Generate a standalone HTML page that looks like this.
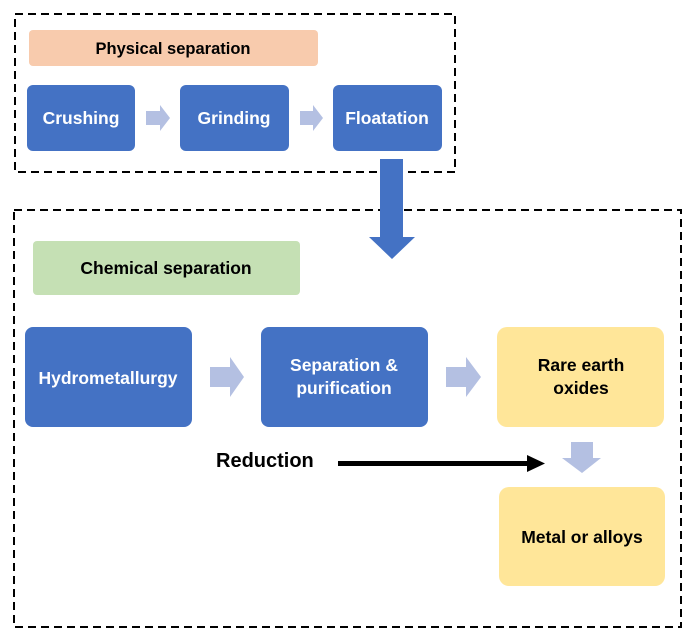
<!DOCTYPE html>
<html><head><style>
html,body{margin:0;padding:0;background:#fff;}
svg{display:block;}
text{font-family:"Liberation Sans",sans-serif;font-weight:bold;}
</style></head><body>
<svg width="697" height="644" viewBox="0 0 697 644" xmlns="http://www.w3.org/2000/svg">
<g fill="none" stroke="#000" stroke-width="2" stroke-dasharray="8,5">
<rect x="15" y="14" width="440" height="158"/>
<rect x="14" y="210" width="667" height="417"/>
</g>
<rect x="29" y="30" width="289" height="36" rx="4" fill="#F8CBAD"/>
<text x="173" y="54" font-size="16.5" text-anchor="middle" fill="#000">Physical separation</text>
<g fill="#4472C4">
<rect x="27" y="85" width="108" height="66" rx="6"/>
<rect x="180" y="85" width="109" height="66" rx="6"/>
<rect x="333" y="85" width="109" height="66" rx="6"/>
<rect x="25" y="327" width="167" height="100" rx="8"/>
<rect x="261" y="327" width="167" height="100" rx="8"/>
<polygon points="380,159 403,159 403,237 415,237 392,259 369,237 380,237"/>
</g>
<g fill="#fff" font-size="17.5" text-anchor="middle">
<text x="81" y="124">Crushing</text>
<text x="234" y="124">Grinding</text>
<text x="387" y="124">Floatation</text>
<text x="108" y="384">Hydrometallurgy</text>
<text x="344" y="371">Separation &amp;</text>
<text x="344" y="394">purification</text>
</g>
<g fill="#B4C0E2">
<polygon points="146,111 160,111 160,105 170,118 160,131 160,125 146,125"/>
<polygon points="300,111 313,111 313,105 323,118 313,131 313,125 300,125"/>
<polygon points="210,367 230,367 230,357 244,377 230,397 230,387 210,387"/>
<polygon points="446,367 466,367 466,357 481,377 466,397 466,387 446,387"/>
<polygon points="571,442 593,442 593,458 601,458 582,473 562,458 571,458"/>
</g>
<rect x="33" y="241" width="267" height="54" rx="4" fill="#C5E0B4"/>
<text x="166" y="274" font-size="17.5" text-anchor="middle" fill="#000">Chemical separation</text>
<g fill="#FFE699">
<rect x="497" y="327" width="167" height="100" rx="10"/>
<rect x="499" y="487" width="166" height="99" rx="10"/>
</g>
<g fill="#000" font-size="17.5" text-anchor="middle">
<text x="581" y="371">Rare earth</text>
<text x="581" y="394">oxides</text>
<text x="582" y="543">Metal or alloys</text>
</g>
<text x="216" y="467" font-size="20" fill="#000">Reduction</text>
<rect x="338" y="461" width="192" height="5" fill="#000"/>
<polygon points="527,455 545,463.5 527,472" fill="#000"/>
</svg>
</body></html>
